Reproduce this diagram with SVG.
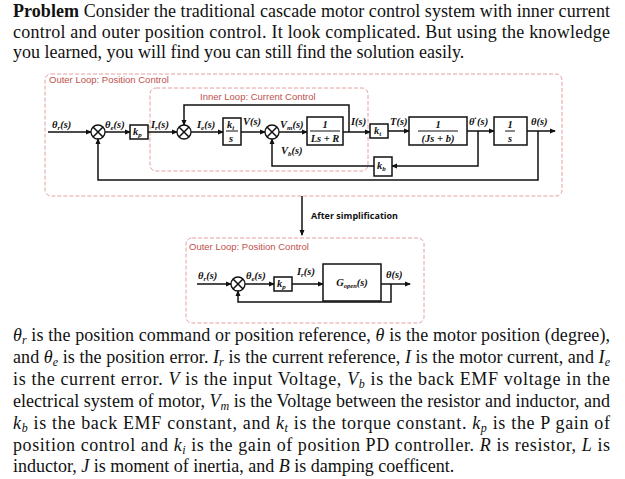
<svg xmlns="http://www.w3.org/2000/svg" width="625" height="479" viewBox="0 0 625 479">
<style>
.t{font-family:"Liberation Serif",serif;font-size:18px;fill:#111}
.m{font-style:italic}
.l{font-family:"Liberation Serif",serif;font-size:10.5px;font-weight:bold;font-style:italic;fill:#111}
.lt{font-family:"Liberation Sans",sans-serif;font-size:9.5px;fill:#c0504d}
.b{fill:#fff;stroke:#111;stroke-width:1.5}
.w{fill:none;stroke:#111;stroke-width:1.5}
.d{fill:none;stroke:#e3a0a0;stroke-width:1;stroke-dasharray:4,2}
.s{fill:#fff;stroke:#111;stroke-width:1.3}
</style>
<defs><marker id="a" markerWidth="6" markerHeight="6" refX="5" refY="3" orient="auto" markerUnits="userSpaceOnUse"><path d="M0,0.5L6,3L0,5.5z" fill="#111"/></marker></defs>
<g id="problem-text">
<text class="t" x="13" y="17" textLength="597" lengthAdjust="spacing"><tspan font-weight="bold">Problem</tspan> Consider the traditional cascade motor control system with inner current</text>
<text class="t" x="13" y="38" textLength="597" lengthAdjust="spacing">control and outer position control. It look complicated. But using the knowledge</text>
<text class="t" x="13" y="58">you learned, you will find you can still find the solution easily.</text>
</g>
<g id="outer-box"><rect class="d" x="45" y="74" width="517" height="122" rx="6"/><text class="lt" x="49" y="83">Outer Loop: Position Control</text></g>
<g id="inner-box"><rect class="d" x="150" y="88" width="218" height="83" rx="6"/><text class="lt" x="200" y="100">Inner Loop: Current Control</text></g>
<g id="connectors">
<path class="w" d="M48,132H91" marker-end="url(#a)"/>
<path class="w" d="M105,132H130" marker-end="url(#a)"/>
<path class="w" d="M148,132H177" marker-end="url(#a)"/>
<path class="w" d="M191,132H223" marker-end="url(#a)"/>
<path class="w" d="M241,132H265" marker-end="url(#a)"/>
<path class="w" d="M279,132H307" marker-end="url(#a)"/>
<path class="w" d="M343,132H370" marker-end="url(#a)"/>
<path class="w" d="M349,132V105H184V125" marker-end="url(#a)"/>
<path class="w" d="M388,131H409" marker-end="url(#a)"/>
<path class="w" d="M467,131H494" marker-end="url(#a)"/>
<path class="w" d="M527,131H555" marker-end="url(#a)"/>
<path class="w" d="M478,131V166H392" marker-end="url(#a)"/>
<path class="w" d="M374,166H272V139" marker-end="url(#a)"/>
<path class="w" d="M538,131V180H98V139" marker-end="url(#a)"/>
<path class="w" d="M302,196V235" marker-end="url(#a)"/>
<path class="w" d="M197,284H231" marker-end="url(#a)"/>
<path class="w" d="M245,284H274" marker-end="url(#a)"/>
<path class="w" d="M292,284H323" marker-end="url(#a)"/>
<path class="w" d="M381,284H410" marker-end="url(#a)"/>
<path class="w" d="M391,284V302H238V291" marker-end="url(#a)"/>
</g>
<g id="sum1"><circle class="s" cx="98" cy="132" r="7"/><path class="w" d="M93,127L103,137M103,127L93,137" stroke-width="1.2"/></g>
<g id="sum2"><circle class="s" cx="184" cy="132" r="7"/><path class="w" d="M179,127L189,137M189,127L179,137" stroke-width="1.2"/></g>
<g id="sum3"><circle class="s" cx="272" cy="132" r="7"/><path class="w" d="M267,127L277,137M277,127L267,137" stroke-width="1.2"/></g>
<g id="kp"><rect class="b" x="130" y="125" width="18" height="14"/><text class="l" x="133" y="135">k<tspan font-size="7" dy="2">p</tspan></text></g>
<g id="ki"><rect class="b" x="223" y="118" width="18" height="27"/><text class="l" x="227" y="128">k<tspan font-size="7" dy="2">i</tspan></text><path d="M226,131H238" stroke="#111"/><text class="l" x="229" y="142">s</text></g>
<g id="plant-e"><rect class="b" x="307" y="117" width="36" height="28"/><text class="l" x="325" y="128" text-anchor="middle">1</text><path d="M310,131H340" stroke="#111"/><text class="l" x="325" y="142" text-anchor="middle">Ls + R</text></g>
<g id="kt"><rect class="b" x="370" y="124" width="18" height="14"/><text class="l" x="374" y="134">k<tspan font-size="7" dy="2">t</tspan></text></g>
<g id="plant-m"><rect class="b" x="409" y="117" width="58" height="28"/><text class="l" x="438" y="128" text-anchor="middle">1</text><path d="M418,131H458" stroke="#111"/><text class="l" x="438" y="142" text-anchor="middle">(Js + b)</text></g>
<g id="integ"><rect class="b" x="494" y="117" width="33" height="28"/><text class="l" x="510" y="128" text-anchor="middle">1</text><path d="M505,131H515" stroke="#111"/><text class="l" x="510" y="142" text-anchor="middle">s</text></g>
<g id="kb"><rect class="b" x="374" y="157" width="18" height="19"/><text class="l" x="377" y="169">k<tspan font-size="7" dy="2">b</tspan></text></g>
<g id="labels-top">
<text class="l" x="52" y="128">θ<tspan font-size="7" dy="2">r</tspan><tspan dy="-2">(s)</tspan></text>
<text class="l" x="105" y="128">θ<tspan font-size="7" dy="2">e</tspan><tspan dy="-2">(s)</tspan></text>
<text class="l" x="151" y="128">I<tspan font-size="7" dy="2">r</tspan><tspan dy="-2">(s)</tspan></text>
<text class="l" x="197" y="128">I<tspan font-size="7" dy="2">e</tspan><tspan dy="-2">(s)</tspan></text>
<text class="l" x="243" y="125">V(s)</text>
<text class="l" x="280" y="128">V<tspan font-size="7" dy="2">m</tspan><tspan dy="-2">(s)</tspan></text>
<text class="l" x="281" y="154">V<tspan font-size="7" dy="2">b</tspan><tspan dy="-2">(s)</tspan></text>
<text class="l" x="351" y="125">I(s)</text>
<text class="l" x="390" y="125">T(s)</text>
<text class="l" x="469" y="125">θ̇ (s)</text>
<text class="l" x="531" y="125">θ(s)</text>
</g>
<g id="simplify-label"><text x="311" y="219" font-family="'Open Sans','Liberation Sans',sans-serif" font-size="9" font-weight="bold" fill="#111">After simplification</text></g>
<g id="outer-box-2"><rect class="d" x="186" y="238" width="238" height="85" rx="6"/><text class="lt" x="189" y="250">Outer Loop: Position Control</text></g>
<g id="sum4"><circle class="s" cx="238" cy="284" r="7"/><path class="w" d="M233,279L243,289M243,279L233,289" stroke-width="1.2"/></g>
<g id="kp2"><rect class="b" x="274" y="277" width="18" height="14"/><text class="l" x="277" y="287">k<tspan font-size="7" dy="2">p</tspan></text></g>
<g id="gopen"><rect class="b" x="323" y="264" width="58" height="37"/><text class="l" x="352" y="286" text-anchor="middle" font-size="9">G<tspan font-size="6.5" dy="2">open</tspan><tspan dy="-2">(s)</tspan></text></g>
<g id="labels-bottom">
<text class="l" x="198" y="279">θ<tspan font-size="7" dy="2">r</tspan><tspan dy="-2">(s)</tspan></text>
<text class="l" x="246" y="279">θ<tspan font-size="7" dy="2">e</tspan><tspan dy="-2">(s)</tspan></text>
<text class="l" x="297" y="275">I<tspan font-size="7" dy="2">r</tspan><tspan dy="-2">(s)</tspan></text>
<text class="l" x="386" y="278">θ(s)</text>
</g>
<g id="description">
<text class="t" x="13" y="341" textLength="597" lengthAdjust="spacing"><tspan class="m">θ<tspan font-size="12" dy="3">r</tspan></tspan><tspan dy="-3"> is the position command or position reference, </tspan><tspan class="m">θ</tspan> is the motor position (degree),</text>
<text class="t" x="13" y="363" textLength="597" lengthAdjust="spacing">and <tspan class="m">θ<tspan font-size="12" dy="3">e</tspan></tspan><tspan dy="-3"> is the position error. </tspan><tspan class="m">I<tspan font-size="12" dy="3">r</tspan></tspan><tspan dy="-3"> is the current reference, </tspan><tspan class="m">I</tspan> is the motor current, and <tspan class="m">I<tspan font-size="12" dy="3">e</tspan></tspan></text>
<text class="t" x="13" y="385" textLength="597" lengthAdjust="spacing">is the current error. <tspan class="m">V</tspan> is the input Voltage, <tspan class="m">V<tspan font-size="12" dy="3">b</tspan></tspan><tspan dy="-3"> is the back EMF voltage in the</tspan></text>
<text class="t" x="13" y="407" textLength="597" lengthAdjust="spacing">electrical system of motor, <tspan class="m">V<tspan font-size="12" dy="3">m</tspan></tspan><tspan dy="-3"> is the Voltage between the resistor and inductor, and</tspan></text>
<text class="t" x="13" y="429" textLength="597" lengthAdjust="spacing"><tspan class="m">k<tspan font-size="12" dy="3">b</tspan></tspan><tspan dy="-3"> is the back EMF constant, and </tspan><tspan class="m">k<tspan font-size="12" dy="3">t</tspan></tspan><tspan dy="-3"> is the torque constant. </tspan><tspan class="m">k<tspan font-size="12" dy="3">p</tspan></tspan><tspan dy="-3"> is the P gain of</tspan></text>
<text class="t" x="13" y="451" textLength="597" lengthAdjust="spacing">position control and <tspan class="m">k<tspan font-size="12" dy="3">i</tspan></tspan><tspan dy="-3"> is the gain of position PD controller. </tspan><tspan class="m">R</tspan> is resistor, <tspan class="m">L</tspan> is</text>
<text class="t" x="13" y="472">inductor, <tspan class="m">J</tspan> is moment of inertia, and <tspan class="m">B</tspan> is damping coefficent.</text>
</g>
</svg>
